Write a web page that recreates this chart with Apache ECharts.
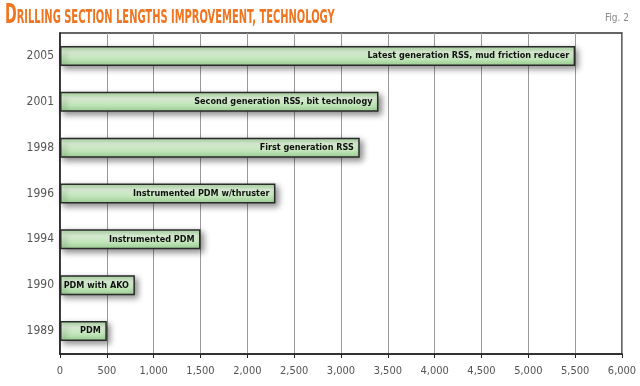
<!DOCTYPE html>
<html><head><meta charset="utf-8">
<script src="https://cdn.jsdelivr.net/npm/echarts@6/dist/echarts.min.js"></script>
<style>html,body{margin:0;padding:0;background:#fff}#c{width:640px;height:386px}</style>
</head><body><div id="c"></div>
<script>
const years = ['1989','1990','1994','1996','1998','2001','2005'];
const lengths = [500, 800, 1500, 2300, 3200, 3400, 5500];
const technologies = ['PDM','PDM with AKO','Instrumented PDM','Instrumented PDM w/thruster','First generation RSS','Second generation RSS, bit technology','Latest generation RSS, mud friction reducer'];

const COND = 'DejaVu Sans Condensed, Roboto, sans-serif';
const chart = echarts.init(document.getElementById('c'), null, {renderer:'canvas'});
chart.setOption({
  animation:false,
  backgroundColor:'#fff',
  graphic:[{
    type:'text', left:5, top:2, scaleX:0.58, scaleY:1, originX:0, originY:0,
    style:{
      text:'{a|D}{b|RILLING SECTION LENGTHS IMPROVEMENT, TECHNOLOGY}',
      rich:{
        a:{fontFamily:COND, fontWeight:'bold', fontSize:27, fill:'#f07520', verticalAlign:'bottom'},
        b:{fontFamily:COND, fontWeight:'bold', fontSize:19, fill:'#f07520', verticalAlign:'bottom', padding:[0,0,1,0]}
      }
    }
  }],
  title:[{
    right:6, top:8, text:'Fig. 2',
    textStyle:{fontFamily:COND, fontSize:10, fontWeight:'normal', color:'#888'}
  }],
  grid:{left:60, right:18, top:33, bottom:32, show:true, borderColor:'#333', borderWidth:1.5, backgroundColor:'transparent'},
  xAxis:{
    type:'value', min:0, max:6000, interval:500,
    axisLine:{show:true, lineStyle:{color:'#222', width:1.5}},
    axisTick:{show:true, length:4, lineStyle:{color:'#222'}},
    splitLine:{show:true, lineStyle:{color:'#999', width:1}},
    axisLabel:{color:'#555', fontFamily:COND, fontSize:11, margin:12,
      formatter:v=>v.toLocaleString('en-US')}
  },
  yAxis:{
    type:'category', data:years,
    axisLine:{show:true, lineStyle:{color:'#222', width:1.5}},
    axisTick:{show:false},
    splitLine:{show:false},
    axisLabel:{color:'#555', fontFamily:COND, fontSize:12, margin:6}
  },
  series:[{
    type:'bar', data:lengths, barWidth:20,
    itemStyle:{
      color:new echarts.graphic.LinearGradient(0,0,0,1,[
        {offset:0,color:'#a8dca0'},{offset:0.3,color:'#e2f5dc'},{offset:1,color:'#9fd496'}]),
      borderColor:'#2a2a2a', borderWidth:1.5,
      shadowBlur:6, shadowOffsetX:3, shadowOffsetY:3, shadowColor:'rgba(0,0,0,0.45)'
    },
    label:{
      show:true, position:'insideRight', distance:6,
      formatter:p=>technologies[p.dataIndex],
      fontFamily:COND, fontWeight:'bold', fontSize:9, color:'#111'
    }
  }]
});
</script></body></html>
